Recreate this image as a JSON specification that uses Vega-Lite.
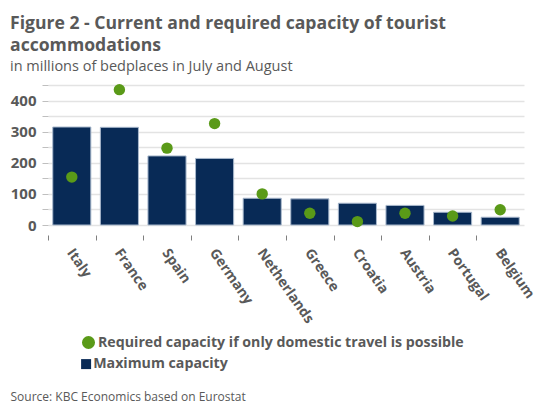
{
  "$schema": "https://vega.github.io/schema/vega-lite/v6.json",
  "width": 476,
  "height": 140,
  "autosize": {"type": "none"},
  "padding": {"left": 48, "top": 85, "right": 18, "bottom": 192},
  "background": "white",
  "config": {
    "view": {"stroke": null},
    "axisY": {
      "title": null,
      "labelOverlap": false,
      "grid": true,
      "gridColor": "#e3e3e3",
      "gridWidth": 1.3,
      "domain": false,
      "tickSize": 6,
      "tickColor": "#bfbfbf",
      "labelFont": "Open Sans",
      "labelFontSize": 15,
      "labelFontWeight": "bold",
      "labelColor": "#595959",
      "labelPadding": 6
    }
  },
  "title": {
    "text": ["Figure 2 - Current and required capacity of tourist", "accommodations"],
    "subtitle": "in millions of bedplaces in July and August",
    "anchor": "start",
    "frame": "group",
    "dx": -38,
    "offset": 5,
    "font": "Open Sans",
    "fontSize": 17.6,
    "fontWeight": "bold",
    "color": "#595959",
    "lineHeight": 21.7,
    "subtitleFont": "Open Sans",
    "subtitleFontSize": 14.5,
    "subtitleColor": "#595959",
    "subtitlePadding": 5
  },
  "data": {
    "values": [
      {"country": "Italy", "max": 315, "req": 154},
      {"country": "France", "max": 314, "req": 435},
      {"country": "Spain", "max": 222, "req": 247},
      {"country": "Germany", "max": 214, "req": 326},
      {"country": "Netherlands", "max": 86, "req": 100},
      {"country": "Greece", "max": 84, "req": 38},
      {"country": "Croatia", "max": 70, "req": 11},
      {"country": "Austria", "max": 63, "req": 38},
      {"country": "Portugal", "max": 41, "req": 29},
      {"country": "Belgium", "max": 25, "req": 49}
    ]
  },
  "encoding": {
    "x": {
      "field": "country",
      "type": "nominal",
      "sort": null,
      "scale": {"paddingInner": 0.2, "paddingOuter": 0.1},
      "axis": {
        "title": "Source: KBC Economics based on Eurostat",
        "titleAnchor": "start",
        "titleAlign": "left",
        "titleX": -38,
        "titleY": 165,
        "titleBaseline": "alphabetic",
        "titleFont": "Open Sans",
        "titleFontSize": 12,
        "titleFontWeight": "normal",
        "titleColor": "#595959",
        "labelAngle": 55,
        "labelAlign": "left",
        "labelBaseline": "top",
        "labelFont": "Open Sans",
        "labelFontSize": 14,
        "labelFontWeight": "bold",
        "labelColor": "#595959",
        "labelPadding": 6,
        "labelOverlap": false,
        "labelBound": false,
        "domain": false,
        "grid": false,
        "tickSize": 5,
        "tickColor": "#7f7f7f",
        "offset": 10,
        "bandPosition": 0,
        "tickOffset": -4.76,
        "labelOffset": 8
      }
    }
  },
  "layer": [
    {
      "mark": {"type": "bar", "stroke": "#a8b8cc", "strokeWidth": 1},
      "encoding": {
        "y": {
          "field": "max",
          "type": "quantitative",
          "scale": {"domain": [0, 450], "nice": false},
          "axis": {
            "values": [0, 50, 100, 150, 200, 250, 300, 350, 400, 450],
            "labelExpr": "datum.value % 100 === 0 ? datum.label : ''"
          }
        },
        "fill": {
          "datum": "Maximum capacity",
          "scale": {"range": ["#082a56"]},
          "legend": {
            "orient": "none",
            "legendX": 31,
            "legendY": 272,
            "title": null,
            "symbolType": "square",
            "symbolSize": 100,
            "symbolStrokeWidth": 0,
            "labelFont": "Open Sans",
            "labelFontSize": 14.2,
            "labelFontWeight": "bold",
            "labelColor": "#595959",
            "labelLimit": 0,
            "labelOffset": 0
          }
        }
      }
    },
    {
      "mark": {"type": "point", "filled": true, "size": 130, "opacity": 1},
      "encoding": {
        "y": {
          "field": "req",
          "type": "quantitative",
          "scale": {"domain": [0, 450], "nice": false},
          "axis": {
            "values": [0, 50, 100, 150, 200, 250, 300, 350, 400, 450],
            "labelExpr": "datum.value % 100 === 0 ? datum.label : ''"
          }
        },
        "color": {
          "datum": "Required capacity if only domestic travel is possible",
          "scale": {"range": ["#5a9a18"]},
          "legend": {
            "orient": "none",
            "legendX": 33,
            "legendY": 250,
            "title": null,
            "symbolType": "circle",
            "symbolSize": 170,
            "labelFont": "Open Sans",
            "labelFontSize": 14.2,
            "labelFontWeight": "bold",
            "labelColor": "#595959",
            "labelLimit": 0,
            "labelOffset": 2
          }
        }
      }
    }
  ]
}
